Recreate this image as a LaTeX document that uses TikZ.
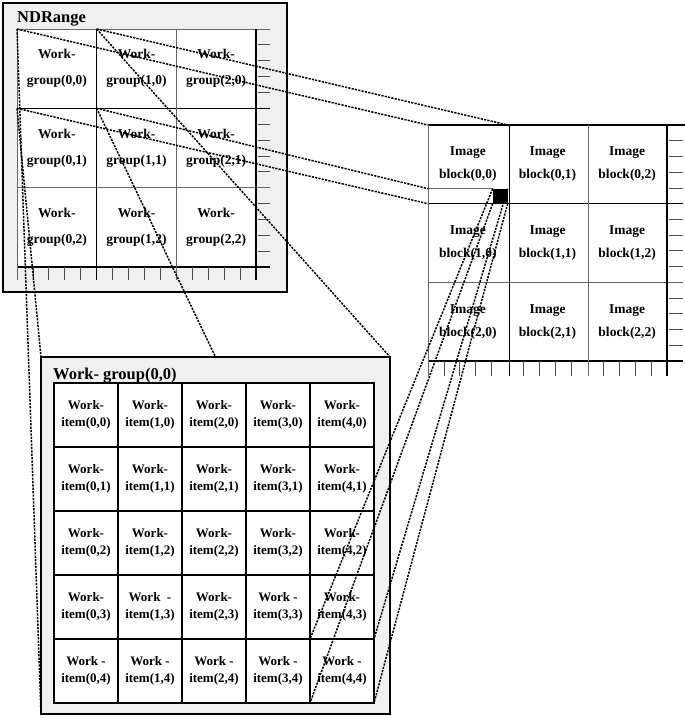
\documentclass[tikz,border=0pt]{standalone}
\usepackage{fontspec}
\setmainfont{Liberation Serif}
\tikzset{
  panel/.style={draw, fill=black!6, line width=2.4pt, inner sep=0pt, outer sep=0pt},
  groupcell/.style={minimum width=79.67pt, minimum height=79.33pt, inner sep=0pt, outer sep=0pt, align=center, font=\bfseries\fontsize{13.5}{26}\selectfont},
  blockcell/.style={minimum width=79.67pt, minimum height=78.67pt, inner sep=0pt, outer sep=0pt, align=center, font=\bfseries\fontsize{13.5}{23}\selectfont},
  itemcell/.style={draw, fill=white, line width=1.6pt, minimum size=64pt, inner sep=0pt, outer sep=0pt, align=center, font=\bfseries\fontsize{13}{17}\selectfont},
  heavy/.style={line width=1.5pt},
  light/.style={line width=0.8pt, black!60},
  tick/.style={line width=0.8pt, black!70},
  zoomline/.style={line width=1.5pt, dash pattern=on 2.2pt off 1.2pt},
  title/.style={anchor=west, inner sep=0pt, font=\bfseries\fontsize{16.5}{18}\selectfont},
}
\begin{document}
\begin{tikzpicture}[x=1pt,y=-1pt]
\useasboundingbox (0,0) rectangle (685,718);

% NDRange
\node[panel, minimum width=284pt, minimum height=289pt] (ndbox) at (145,147.5) {};
\fill[white] (17,29) rectangle (256,267);
\node[title] (ndtitle) at (17,19) {NDRange};
\foreach \i in {0,1,2}
  \foreach \j in {0,1,2}
    \node[groupcell] (wg-\i-\j) at ({17+79.67*(\i+0.5)},{29+79.33*(\j+0.5)}) {Work-\\group(\i,\j)};
\foreach \y in {29,187.7} \draw[light] (17,\y) -- (270,\y);
\foreach \y in {108.3,267} \draw[heavy] (17,\y) -- (270,\y);
\foreach \x in {17,176.3} \draw[light] (\x,29) -- (\x,280);
\foreach \x in {96.7,256} \draw[heavy] (\x,29) -- (\x,280);
\foreach \j in {0,1,2}
  \foreach \k in {1,...,4} {
    \draw[tick] (258,{29+79.33*(\j+\k/5)}) -- (270,{29+79.33*(\j+\k/5)});
    \draw[tick] ({17+79.67*(\j+\k/5)},267) -- ({17+79.67*(\j+\k/5)},280);
  }

% image
\foreach \r in {0,1,2}
  \foreach \c in {0,1,2}
    \node[blockcell] (blk-\r-\c) at ({428+79.67*(\c+0.5)},{125+78.67*(\r+0.5)}) {Image\\block(\r,\c)};
\draw[heavy] (428,125) -- (685,125);
\foreach \y in {203.7,361} \draw[heavy] (428,\y) -- (683,\y);
\draw[light] (428,282.3) -- (683,282.3);
\foreach \x in {428,588.3} \draw[light] (\x,125) -- (\x,376);
\foreach \x in {509.7,667} \draw[heavy] (\x,125) -- (\x,376);
\foreach \j in {0,1,2}
  \foreach \k in {1,...,4} {
    \draw[tick] (669,{125+78.67*(\j+\k/5)}) -- (683,{125+78.67*(\j+\k/5)});
    \draw[tick] ({428+79.67*(\j+\k/5)},361) -- ({428+79.67*(\j+\k/5)},376);
  }
\node[fill=black, minimum size=15pt, inner sep=0pt, outer sep=0pt, anchor=south east] (pix) at (blk-0-0.south east) {};
\coordinate (pixrow) at (blk-0-0.west |- pix.north);
\draw[light] (pixrow) -- (pix.north west);

% work-group
\node[panel, minimum width=349pt, minimum height=357pt] (wgbox) at (215.5,535.5) {};
\node[title] (wgtitle) at (53,376) {Work- group(0,0)};
\foreach \j in {0,1,2}
  \foreach \i in {0,...,4}
    \node[itemcell] (it-\i-\j) at ({54+64*(\i+0.5)},{383+64*(\j+0.5)}) {Work-\\item(\i,\j)};
\foreach \i/\w in {0/Work-,1/Work\ \ -,2/Work-,3/Work -,4/Work-}
  \node[itemcell] (it-\i-3) at ({54+64*(\i+0.5)},{383+64*3.5}) {\w\\item(\i,3)};
\foreach \i in {0,...,4}
  \node[itemcell] (it-\i-4) at ({54+64*(\i+0.5)},{383+64*4.5}) {Work -\\item(\i,4)};

% zoom lines
\draw[zoomline] (wg-0-0.north west) -- (blk-0-0.north west);
\draw[zoomline] (wg-0-0.north east) -- (blk-0-0.north east);
\draw[zoomline] (wg-0-0.south west) -- (blk-0-0.south west);
\draw[zoomline] (wg-0-0.south east) -- (pixrow);
\draw[zoomline] (wg-0-0.north west) -- (wgbox.south west);
\draw[zoomline] (wg-0-0.south west) -- (wgbox.north west);
\draw[zoomline] (wg-0-0.north east) -- (wgbox.north east);
\draw[zoomline] (wg-0-0.south east) -- (wgbox.north);
\draw[zoomline] (pix.north west) -- (it-4-4.north west);
\draw[zoomline] (pix.north east) -- (it-4-4.north east);
\draw[zoomline] (pix.south west) -- (it-4-4.south west);
\draw[zoomline] (pix.south east) -- (it-4-4.south east);
\end{tikzpicture}
\end{document}
